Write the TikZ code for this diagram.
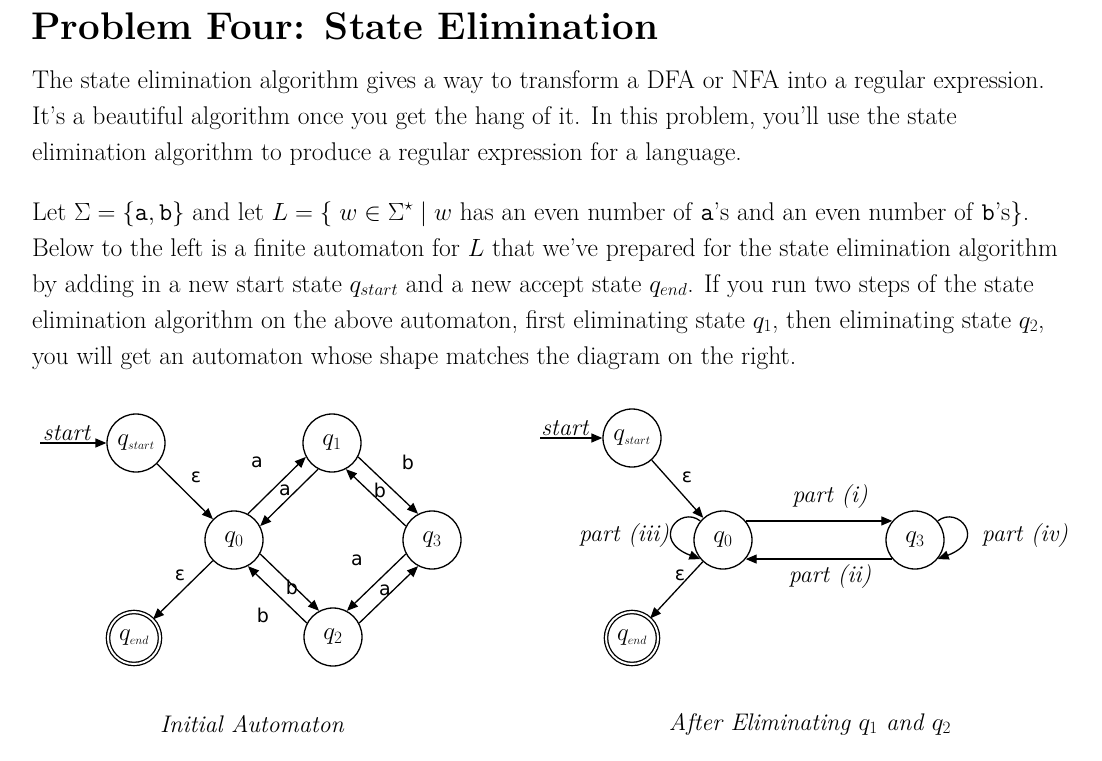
\documentclass[tikz,border=0pt]{standalone}
\usepackage{fontspec}
\newfontfamily\dvs{DejaVu Sans}
\usetikzlibrary{arrows.meta}
\begin{document}
\begin{tikzpicture}[x=1pt,y=-1pt,
  st/.style={circle,draw,line width=1.3pt,minimum size=58pt,inner sep=0pt,font=\fontsize{24}{24}\selectfont},
  acc/.style={st,double,double distance=2pt,minimum size=52pt},
  ar/.style={line width=1.3pt,-{Triangle[length=11pt,width=9pt]}},
  el/.style={font=\dvs\fontsize{19}{19}\selectfont},
  pl/.style={font=\itshape\fontsize{24}{24}\selectfont},
  tx/.style={anchor=base west,inner sep=0pt,font=\fontsize{25.6}{25.6}\selectfont}]
\useasboundingbox (0,0) rectangle (1102,760);
\node[tx,font=\bfseries\fontsize{38.5}{38.5}\selectfont] (title) at (31,40) {Problem Four: State Elimination};
\node[tx] (l1) at (32,88) {The state elimination algorithm gives a way to transform a DFA or NFA into a regular expression.};
\node[tx] (l2) at (32,124) {It's a beautiful algorithm once you get the hang of it. In this problem, you'll use the state};
\node[tx] (l3) at (32,160) {elimination algorithm to produce a regular expression for a language.};
\node[tx] (l4) at (32,220) {Let $\Sigma=\{\texttt{a},\texttt{b}\}$ and let $L=\{\;w\in\Sigma^\star\mid w$ has an even number of \texttt{a}'s and an even number of \texttt{b}'s$\}$.};
\node[tx] (l5) at (32,256) {Below to the left is a finite automaton for $L$ that we've prepared for the state elimination algorithm};
\node[tx] (l6) at (32,292) {by adding in a new start state $q_{start}$ and a new accept state $q_{end}$. If you run two steps of the state};
\node[tx] (l7) at (32,328) {elimination algorithm on the above automaton, first eliminating state $q_1$, then eliminating state $q_2$,};
\node[tx] (l8) at (32,364) {you will get an automaton whose shape matches the diagram on the right.};
% left automaton
\node[st] (s) at (136,443) {$q_{\scriptscriptstyle start}$};
\node[st] (a0) at (234,540) {$q_0$};
\node[st] (a1) at (332,443) {$q_1$};
\node[st] (a3) at (432,540) {$q_3$};
\node[st] (a2) at (333,637) {$q_2$};
\node[acc] (e) at (134,638) {$q_{\scriptscriptstyle end}$};
\coordinate (sin) at (40,443);
\draw[ar] (sin) -- node[above,pl,pos=0.4,yshift=-2pt]{start} (s);
\draw[ar] (s) -- (a0);
\draw[ar] (a0) -- (e);
\draw[ar] (a0.62) -- (a1.208);
\draw[ar] (a1.242) -- (a0.28);
\draw[ar] (a1.332) -- (a3.118);
\draw[ar] (a3.152) -- (a1.298);
\draw[ar] (a0.332) -- (a2.118);
\draw[ar] (a2.152) -- (a0.298);
\draw[ar] (a2.28) -- (a3.242);
\draw[ar] (a3.208) -- (a2.62);
\node[el] (t1) at (196,477) {ε};
\node[el] (t2) at (180,575) {ε};
\node[el] (t3) at (257,462) {a};
\node[el] (t4) at (285,490) {a};
\node[el] (t5) at (408,462) {b};
\node[el] (t6) at (380,490) {b};
\node[el] (t7) at (357,560) {a};
\node[el] (t8) at (385,590) {a};
\node[el] (t9) at (292,587) {b};
\node[el] (t10) at (263,615) {b};
\node[pl] (c1) at (252,724) {Initial Automaton};
% right automaton
\node[st] (r s) at (632,438) {$q_{\scriptscriptstyle start}$};
\node[st] (r0) at (723,540) {$q_0$};
\node[st] (r3) at (915,540) {$q_3$};
\node[acc] (re) at (632,638) {$q_{\scriptscriptstyle end}$};
\coordinate (rin) at (540,438);
\draw[ar] (rin) -- node[above,pl,pos=0.4,yshift=-2pt]{start} (r s);
\draw[ar] (r s) -- (r0);
\draw[ar] (r0) -- (re);
\draw[ar] (r0.40) -- (r3.140);
\draw[ar] (r3.220) -- (r0.320);
\draw[ar] (r0.140) .. controls (680,505) and (650,540) .. (r0.220);
\draw[ar] (r3.40) .. controls (958,505) and (988,540) .. (r3.320);
\node[el] (u1) at (687,477) {ε};
\node[el] (u2) at (680,575) {ε};
\node[pl] (p1) at (830,497) {part (i)};
\node[pl] (p2) at (830,577) {part (ii)};
\node[pl] (p3) at (624,536) {part (iii)};
\node[pl] (p4) at (1025,536) {part (iv)};
\node[pl] (c2) at (810,724) {After Eliminating $q_1$ and $q_2$};
\end{tikzpicture}
\end{document}
